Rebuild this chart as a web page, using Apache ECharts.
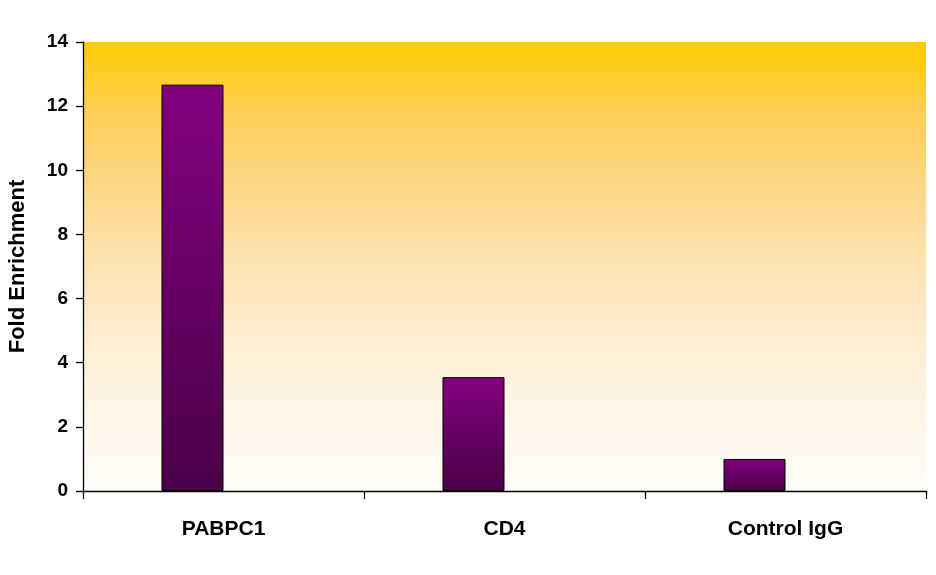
<!DOCTYPE html>
<html lang="en">
<head>
    <meta charset="UTF-8">
    <title>Fold Enrichment</title>
    <style>
        html, body { margin: 0; padding: 0; background: #fff; }
        #chart { width: 936px; height: 575px; }
    </style>
    <script src="https://cdn.jsdelivr.net/npm/echarts@6/dist/echarts.min.js"></script>
</head>
<body>
    <div id="chart"></div>
</body>
<script>
    var mCharts = echarts.init(document.getElementById('chart'));

    // categories and values
    var categories = ['PABPC1', 'CD4', 'Control IgG'];
    var foldValues = [12.67, 3.55, 1.0];
    // second (empty) series in the original chart, keeps bars left of centre
    var emptyValues = ['-', '-', '-'];
    var yTicks = { min: 0, max: 14, interval: 2 };

    var fontFam = '"Liberation Sans Narrow", "Arial Narrow", "Liberation Sans", Arial, sans-serif';

    var option = {
        backgroundColor: '#ffffff',
        animation: false,
        grid: {
            left: 83,
            right: 10,
            top: 42,
            bottom: 84,
            outerBoundsMode: 'none',
            show: true,
            borderWidth: 0,
            backgroundColor: {
                type: 'linear', x: 0, y: 0, x2: 0, y2: 1,
                colorStops: [
                    { offset: 0, color: '#FFCC00' },
                    { offset: 0.15, color: '#FECF52' },
                    { offset: 0.35, color: '#FDD990' },
                    { offset: 0.55, color: '#FDE6BC' },
                    { offset: 0.75, color: '#FEF2DE' },
                    { offset: 1, color: '#FFFDFA' }
                ]
            }
        },
        xAxis: {
            type: 'category',
            data: categories,
            axisLine: { lineStyle: { color: '#000', width: 1.3 } },
            axisTick: { show: true, length: 8, lineStyle: { color: '#000', width: 1.3 } },
            axisLabel: {
                color: '#000',
                fontFamily: fontFam,
                fontWeight: 'bold',
                fontSize: 21,
                margin: 28
            }
        },
        yAxis: {
            type: 'value',
            min: yTicks.min,
            max: yTicks.max,
            interval: yTicks.interval,
            name: 'Fold Enrichment',
            nameLocation: 'middle',
            nameGap: 54,
            nameTextStyle: {
                color: '#000',
                fontFamily: fontFam,
                fontWeight: 'bold',
                fontSize: 22
            },
            axisLine: { show: true, lineStyle: { color: '#000', width: 1.3 } },
            axisTick: { show: true, length: 7, lineStyle: { color: '#000', width: 1.3 } },
            splitLine: { show: false },
            axisLabel: {
                color: '#000',
                fontFamily: fontFam,
                fontWeight: 'bold',
                fontSize: 19,
                margin: 15
            }
        },
        series: [
            {
                name: 'Fold Enrichment',
                type: 'bar',
                data: foldValues,
                barWidth: 62,
                barGap: '0%',
                itemStyle: {
                    borderColor: '#000',
                    borderWidth: 1,
                    color: {
                        type: 'linear', x: 0, y: 0, x2: 0, y2: 1,
                        colorStops: [
                            { offset: 0, color: '#820080' },
                            { offset: 1, color: '#4A0048' }
                        ]
                    }
                }
            },
            {
                name: 'empty',
                type: 'bar',
                data: emptyValues,
                barWidth: 62,
                barGap: '0%'
            }
        ]
    };
    mCharts.setOption(option);
</script>
</html>
